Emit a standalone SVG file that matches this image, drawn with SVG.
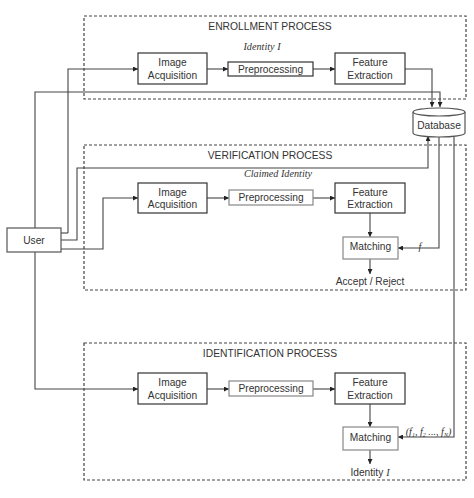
<svg xmlns="http://www.w3.org/2000/svg" width="474" height="498" viewBox="0 0 474 498">
<style>
text{font-family:"Liberation Sans",Arial,sans-serif;fill:#333;font-size:10.2px;text-anchor:middle}
.title{font-size:10.3px}
.it{font-family:"Liberation Serif","Times New Roman",serif;font-style:italic;font-size:10.2px}
.dash{fill:none;stroke:#444;stroke-width:1.2;stroke-dasharray:3,2}
.bx{fill:#fff;stroke:#333;stroke-width:1.2}
.lt{fill:#fff;stroke:#888;stroke-width:1.2}
.ln{fill:none;stroke:#444;stroke-width:1.1;marker-end:url(#ah)}
.pl{fill:none;stroke:#444;stroke-width:1.1}
</style>
<defs>
<marker id="ah" viewBox="0 0 10 10" refX="10" refY="5" markerWidth="5" markerHeight="5" markerUnits="userSpaceOnUse" orient="auto">
<path d="M0,0 L10,5 L0,10 z" fill="#222"/>
</marker>
</defs>
<rect width="474" height="498" fill="#fff"/>

<g id="enrollment">
<rect class="dash" x="84" y="16" width="382" height="83"/>
<text class="title" x="270" y="30">ENROLLMENT PROCESS</text>
<text class="it" x="262" y="50">Identity I</text>
</g>
<g id="verification">
<rect class="dash" x="84" y="145" width="382" height="145"/>
<text class="title" x="270" y="159">VERIFICATION PROCESS</text>
<text class="it" x="278" y="177">Claimed Identity</text>
</g>
<g id="identification">
<rect class="dash" x="84" y="343" width="382" height="137"/>
<text class="title" x="270" y="357">IDENTIFICATION PROCESS</text>
</g>

<g id="connectors">
<!-- enrollment -->
<path class="ln" d="M68,233 V69 H138"/>
<path class="ln" d="M207,69 H228"/>
<path class="ln" d="M313,69 H335"/>
<path class="ln" d="M405,69 H432 V107"/>
<path class="ln" d="M35,228 V92 H440 V107"/>
<!-- verification -->
<path class="ln" d="M61,240 H77 V168 H428 V136"/>
<path class="ln" d="M61,249 H103 V198 H138"/>
<path class="ln" d="M207,198 H229"/>
<path class="ln" d="M313,198 H335"/>
<path class="ln" d="M370,213 V237"/>
<path class="ln" d="M370,259 V274"/>
<path class="ln" d="M439,136 V248 H398"/>
<!-- identification -->
<path class="ln" d="M35,252 V389 H138"/>
<path class="ln" d="M207,389 H229"/>
<path class="ln" d="M313,389 H335"/>
<path class="ln" d="M370,404 V427"/>
<path class="ln" d="M370,450 V464"/>
<path class="ln" d="M454,136 V437 H398"/>
<path class="pl" d="M61,233 H68"/>
</g>

<g id="user">
<rect x="7" y="228" width="54" height="24" fill="#fff" stroke="#555" stroke-width="1.2"/>
<text x="34" y="243.5">User</text>
</g>

<g id="database">
<path d="M413,112 V133 A26,4 0 0 0 465,133 V112" fill="#fff" stroke="#555" stroke-width="1.2"/>
<ellipse cx="439" cy="112" rx="26" ry="4" fill="#fff" stroke="#555" stroke-width="1.2"/>
<text x="439" y="128.5">Database</text>
</g>

<g id="e-acq"><rect class="bx" x="138" y="53" width="69" height="31"/><text x="172.5" y="65.5">Image</text><text x="172.5" y="78.5">Acquisition</text></g>
<g id="e-pre"><rect class="bx" x="228" y="62" width="85" height="14"/><text x="270.5" y="72.5">Preprocessing</text></g>
<g id="e-fe"><rect class="bx" x="335" y="53" width="70" height="31"/><text x="370" y="65.5">Feature</text><text x="370" y="78.5">Extraction</text></g>

<g id="v-acq"><rect class="bx" x="138" y="183" width="69" height="30"/><text x="172.5" y="195.5">Image</text><text x="172.5" y="208">Acquisition</text></g>
<g id="v-pre"><rect class="lt" x="229" y="190" width="84" height="15"/><text x="271" y="200.5">Preprocessing</text></g>
<g id="v-fe"><rect class="bx" x="335" y="183" width="70" height="30"/><text x="370" y="195.5">Feature</text><text x="370" y="208">Extraction</text></g>
<g id="v-match"><rect class="lt" x="343" y="237" width="55" height="22"/><text x="370.5" y="249.5">Matching</text></g>
<text x="370" y="285">Accept / Reject</text>
<text class="it" x="420" y="250">f</text>

<g id="i-acq"><rect class="bx" x="138" y="373" width="69" height="31"/><text x="172.5" y="385.5">Image</text><text x="172.5" y="398.5">Acquisition</text></g>
<g id="i-pre"><rect class="lt" x="229" y="381" width="84" height="15"/><text x="271" y="392">Preprocessing</text></g>
<g id="i-fe"><rect class="bx" x="335" y="373" width="70" height="31"/><text x="370" y="385.5">Feature</text><text x="370" y="398.5">Extraction</text></g>
<g id="i-match"><rect class="lt" x="343" y="427" width="55" height="23"/><text x="370.5" y="440.5">Matching</text></g>
<text x="370" y="476">Identity <tspan class="it">I</tspan></text>
<text class="it" x="428.5" y="435" font-size="9.5">(f<tspan font-size="6" dy="2">1</tspan><tspan dy="-2">, f</tspan><tspan font-size="6" dy="2">2</tspan><tspan dy="-2"> ..., f</tspan><tspan font-size="6" dy="2">N</tspan><tspan dy="-2">)</tspan></text>
</svg>
